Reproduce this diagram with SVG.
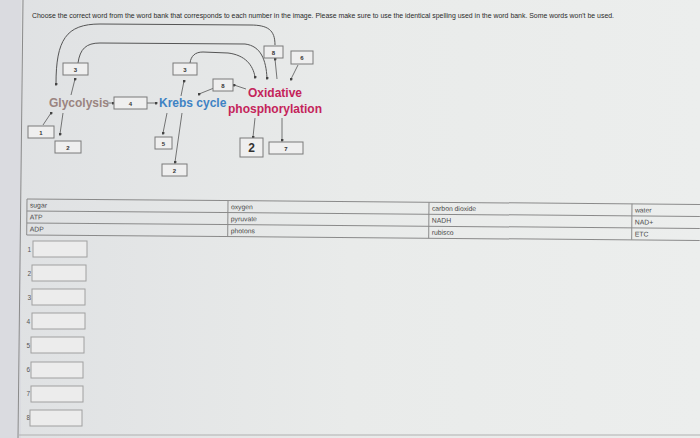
<svg xmlns="http://www.w3.org/2000/svg" width="700" height="438" viewBox="0 0 700 438">
<defs>
<marker id="dot" viewBox="0 0 4 4" refX="2" refY="2" markerWidth="3" markerHeight="3" markerUnits="userSpaceOnUse"><circle cx="2" cy="2" r="2" fill="#444"/></marker>
<linearGradient id="bg" x1="0" y1="0" x2="1" y2="0">
<stop offset="0" stop-color="#dfe1e3"/><stop offset="0.5" stop-color="#e9ebea"/><stop offset="1" stop-color="#eceeed"/>
</linearGradient>
</defs>
<style>
.box{fill:#efefef;stroke:#7a7a7a;stroke-width:1}
.num{font-family:"Liberation Sans",Arial,sans-serif;font-size:6px;font-weight:bold;fill:#333;text-anchor:middle}
.lbl{font-family:"Liberation Sans",Arial,sans-serif;font-size:12px;font-weight:bold}
.con{fill:none;stroke:#555;stroke-width:0.8;marker-end:url(#dot)}
.arc{fill:none;stroke:#555;stroke-width:1}
.tb{font-family:"Liberation Sans",Arial,sans-serif;font-size:6.8px;fill:#4a4a4a}
.tl{stroke:#8a8a8a;stroke-width:1}
.ab{fill:#ececec;stroke:#a0a0a0;stroke-width:1}
.an{font-family:"Liberation Sans",Arial,sans-serif;font-size:6.5px;fill:#555;text-anchor:end}
</style>
<rect width="700" height="438" fill="url(#bg)"/>
<rect width="21" height="438" fill="#dadbe0"/>
<line x1="23" y1="0" x2="18" y2="438" stroke="#8a8a8a" stroke-width="1"/>
<text x="32" y="18" font-family="Liberation Sans, Arial, sans-serif" font-size="6.4" fill="#2a2a2a" textLength="582" lengthAdjust="spacingAndGlyphs">Choose the correct word from the word bank that corresponds to each number in the image.  Please make sure to use the identical spelling used in the word bank.  Some words won't be used.</text>

<g id="connectors">
<path class="arc" d="M 275,45 C 275,30 268,25 250,25 L 100,24 C 66,24 56,40 56,84" marker-end="url(#dot)"/>
<path class="arc" d="M 78,63 C 80,49 86,43 100,43 L 245,44 C 261,46 266,60 267,78" marker-end="url(#dot)"/>
<path class="arc" d="M 190,63 C 191,56 195,52 203,52 L 228,53 C 245,55 253,65 255,77" marker-end="url(#dot)"/>
<line class="con" x1="71" y1="95" x2="75" y2="79"/>
<line class="con" x1="43" y1="125" x2="51" y2="113"/>
<line class="con" x1="63" y1="113" x2="60" y2="134"/>
<line class="con" x1="107" y1="103" x2="113" y2="103"/>
<line class="con" x1="147" y1="103" x2="156" y2="103"/>
<line class="con" x1="181" y1="96" x2="184" y2="81"/>
<line class="con" x1="167" y1="113" x2="163" y2="133"/>
<line class="con" x1="182" y1="113" x2="175" y2="162"/>
<line class="con" x1="214" y1="88" x2="199" y2="94"/>
<line class="con" x1="246" y1="89" x2="234" y2="85"/>
<line class="con" x1="277" y1="79" x2="275" y2="59"/>
<line class="con" x1="298" y1="65" x2="291" y2="79"/>
<line class="con" x1="255" y1="118" x2="253" y2="137"/>
<line class="con" x1="282" y1="118" x2="282" y2="140"/>
</g>

<g id="glycolysis"><text class="lbl" x="49" y="107" fill="#9a8480">Glycolysis</text></g>
<g id="krebs"><text class="lbl" x="159" y="107" fill="#3f83c4">Krebs cycle</text></g>
<g id="oxphos"><text class="lbl" x="248" y="97" fill="#c4245a">Oxidative</text><text class="lbl" x="228" y="113" fill="#c4245a">phosphorylation</text></g>

<g id="box-3a"><rect class="box" x="63" y="63" width="25" height="12"/><text class="num" x="75.5" y="71.5">3</text></g>
<g id="box-3b"><rect class="box" x="173" y="63" width="24" height="12"/><text class="num" x="185" y="71.5">3</text></g>
<g id="box-8a"><rect class="box" x="264" y="46" width="19" height="12"/><text class="num" x="273.5" y="54.5">8</text></g>
<g id="box-6"><rect class="box" x="291" y="51" width="22" height="13"/><text class="num" x="302" y="60">6</text></g>
<g id="box-8b"><rect class="box" x="213" y="79" width="20" height="12"/><text class="num" x="223" y="87.5">8</text></g>
<g id="box-4"><rect class="box" x="114" y="97" width="33" height="12"/><text class="num" x="130.5" y="105.5">4</text></g>
<g id="box-1"><rect class="box" x="28" y="126" width="26" height="12"/><text class="num" x="41" y="134.5">1</text></g>
<g id="box-2a"><rect class="box" x="55" y="141" width="26" height="12"/><text class="num" x="68" y="149.5">2</text></g>
<g id="box-5"><rect class="box" x="155" y="137" width="17" height="12"/><text class="num" x="163.5" y="145.5">5</text></g>
<g id="box-2b"><rect class="box" x="162" y="164" width="25" height="12"/><text class="num" x="174.5" y="172.5">2</text></g>
<g id="box-2c"><rect class="box" x="240" y="138" width="23" height="19"/><text x="251.5" y="152" font-family="Liberation Sans, Arial, sans-serif" font-size="12" font-weight="bold" fill="#333" text-anchor="middle">2</text></g>
<g id="box-7"><rect class="box" x="269" y="142" width="34" height="12"/><text class="num" x="286" y="150.5">7</text></g>

<g id="word-bank" transform="rotate(0.46 27 199)">
<line class="tl" x1="27" y1="199" x2="700" y2="199" stroke-width="1.5"/>
<line class="tl" x1="27" y1="211" x2="700" y2="211"/>
<line class="tl" x1="27" y1="223" x2="700" y2="223"/>
<line class="tl" x1="27" y1="235" x2="700" y2="235"/>
<line class="tl" x1="27" y1="199" x2="27" y2="235"/>
<line class="tl" x1="228" y1="199" x2="228" y2="235"/>
<line class="tl" x1="429" y1="199" x2="429" y2="235"/>
<line class="tl" x1="632" y1="199" x2="632" y2="235"/>
<text class="tb" x="30" y="207.5">sugar</text>
<text class="tb" x="30" y="219.5">ATP</text>
<text class="tb" x="30" y="231.5">ADP</text>
<text class="tb" x="231" y="207.5">oxygen</text>
<text class="tb" x="231" y="219.5">pyruvate</text>
<text class="tb" x="231" y="231.5">photons</text>
<text class="tb" x="432" y="207.5">carbon dioxide</text>
<text class="tb" x="432" y="219.5">NADH</text>
<text class="tb" x="432" y="231.5">rubisco</text>
<text class="tb" x="635" y="207.5">water</text>
<text class="tb" x="635" y="219.5">NAD+</text>
<text class="tb" x="635" y="231.5">ETC</text>
</g>

<g id="answers">
<text class="an" x="31" y="251.5">1</text><rect class="ab" x="33" y="241" width="54" height="16"/>
<text class="an" x="31" y="275.5">2</text><rect class="ab" x="32" y="265" width="54" height="16"/>
<text class="an" x="31" y="299.5">3</text><rect class="ab" x="32" y="289" width="53" height="16"/>
<text class="an" x="30" y="323.5">4</text><rect class="ab" x="32" y="313" width="53" height="16"/>
<text class="an" x="30" y="347.5">5</text><rect class="ab" x="31" y="337" width="53" height="16"/>
<text class="an" x="30" y="372">6</text><rect class="ab" x="31" y="362" width="52" height="16"/>
<text class="an" x="30" y="396">7</text><rect class="ab" x="31" y="386" width="52" height="16"/>
<text class="an" x="30" y="420">8</text><rect class="ab" x="30" y="410" width="52" height="16"/>
</g>
<line x1="18" y1="435" x2="700" y2="435" stroke="#b0b0b0" stroke-width="1"/>
</svg>
